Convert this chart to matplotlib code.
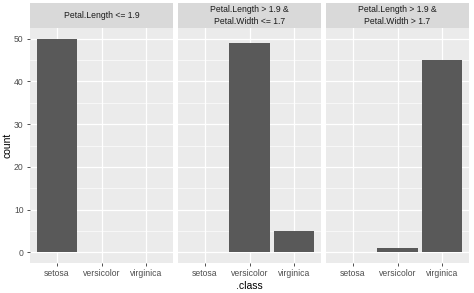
import numpy as np
import matplotlib.pyplot as plt

classes = ["setosa", "versicolor", "virginica"]
panel_titles = ["Petal.Length <= 1.9",
                "Petal.Length > 1.9 &\nPetal.Width <= 1.7",
                "Petal.Length > 1.9 &\nPetal.Width > 1.7"]
counts = [[50, 0, 0],
          [0, 49, 5],
          [0, 1, 45]]
y_ticks = [0, 10, 20, 30, 40, 50]

plt.rcParams['font.family'] = ['Liberation Sans', 'DejaVu Sans']

W, H = 474, 293
fig = plt.figure(figsize=(W / 100, H / 100), dpi=100)

lefts = [30, 178, 326]
pw = 143
top, bottom = 28, 263
strip_top = 3

x = np.arange(len(classes))
for i, left in enumerate(lefts):
    ax = fig.add_axes([left / W, 1 - bottom / H, pw / W, (bottom - top) / H])
    ax.set_facecolor('#EBEBEB')
    ax.bar(x, counts[i], width=0.9, color='#595959', zorder=3)
    ax.set_xlim(-0.6, 2.6)
    ax.set_ylim(-2.5, 52.5)
    ax.set_xticks(x)
    ax.set_xticklabels(classes, fontsize=6.2, color='#4D4D4D')
    ax.set_yticks(y_ticks)
    ax.set_yticks([5, 15, 25, 35, 45], minor=True)
    ax.grid(which='major', color='white', linewidth=0.9, zorder=0)
    ax.grid(which='minor', axis='y', color='white', linewidth=0.45, zorder=0)
    ax.set_axisbelow(True)
    for s in ax.spines.values():
        s.set_visible(False)
    ax.tick_params(which='major', length=2.5, width=0.6, color='#333333', pad=2)
    ax.tick_params(which='minor', length=0)
    if i == 0:
        ax.set_yticklabels([str(v) for v in y_ticks], fontsize=6.2, color='#4D4D4D')
    else:
        ax.tick_params(axis='y', which='both', left=False, labelleft=False)
    if i == 1:
        ax.set_xlabel('.class', fontsize=7.5, labelpad=2)

    sax = fig.add_axes([left / W, 1 - top / H, pw / W, (top - strip_top) / H])
    sax.set_facecolor('#D9D9D9')
    sax.set_xticks([])
    sax.set_yticks([])
    for s in sax.spines.values():
        s.set_visible(False)
    sax.text(0.5, 0.5, panel_titles[i], ha='center', va='center',
             fontsize=6.2, color='#1A1A1A', linespacing=1.35,
             transform=sax.transAxes)

fig.text(8 / W, 1 - (top + bottom) / 2 / H, 'count', rotation=90,
         ha='center', va='center', fontsize=7.5)

fig.savefig('out.png', dpi=100)
